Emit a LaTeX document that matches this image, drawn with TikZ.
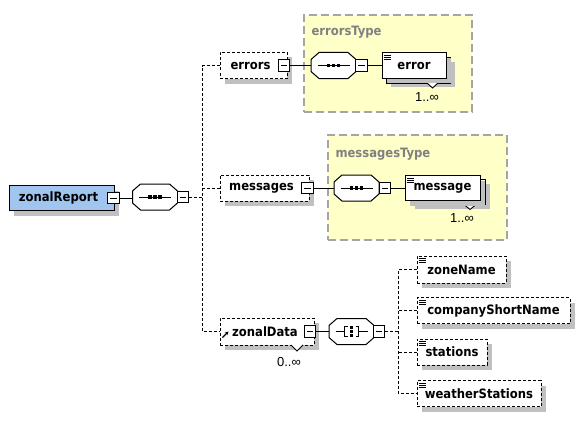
\documentclass[tikz,border=0pt]{standalone}
\usepackage{fontspec}
\setmainfont{DejaVu Sans}
\newfontfamily\lblfam{DejaVu Sans Condensed}
\newfontfamily\occfam{Liberation Sans}
\usetikzlibrary{shadows,arrows.meta}
\definecolor{repblue}{RGB}{160,198,240}
\definecolor{typeyel}{RGB}{255,255,200}
\definecolor{typeborder}{RGB}{165,165,165}
\definecolor{shadowc}{RGB}{192,192,192}
\definecolor{titlegray}{RGB}{128,128,128}
\newcommand{\xsOcto}[3]{%
  \node[minimum width=44pt,minimum height=25pt,inner sep=0pt] (#1) at (#2,#3) {};
  \fill[shadowc,shift={(4,4)}] ([shift={(8,0)}]#1.north west) -- ([shift={(-8,0)}]#1.north east) -- ([shift={(0,7)}]#1.north east) -- ([shift={(0,-7)}]#1.south east) -- ([shift={(-8,0)}]#1.south east) -- ([shift={(8,0)}]#1.south west) -- ([shift={(0,-7)}]#1.south west) -- ([shift={(0,7)}]#1.north west) -- cycle;
  \draw[fill=white] ([shift={(8,0)}]#1.north west) -- ([shift={(-8,0)}]#1.north east) -- ([shift={(0,7)}]#1.north east) -- ([shift={(0,-7)}]#1.south east) -- ([shift={(-8,0)}]#1.south east) -- ([shift={(8,0)}]#1.south west) -- ([shift={(0,-7)}]#1.south west) -- ([shift={(0,7)}]#1.north west) -- cycle;
}
\newcommand{\xsSeqIcon}[1]{%
  \draw ([shift={(-16,0)}]#1.center) -- ([shift={(16,0)}]#1.center);
  \foreach \d in {-5,0,5} \fill ([shift={(\d-1.6,-1.6)}]#1.center) rectangle ([shift={(\d+1.6,1.6)}]#1.center);
}
\newcommand{\xsSimpleIcon}[1]{%
  \foreach \d in {3,5,7} \draw[line width=0.8pt] ([shift={(2,\d)}]#1.north west) -- ([shift={(9,\d)}]#1.north west);
}
\begin{document}
\begin{tikzpicture}[x=1pt,y=-1pt,line width=1pt,
  lbl/.style={font=\lblfam\bfseries\fontsize{12.9}{15}\selectfont},
  elem/.style={lbl,draw,fill=white,inner sep=0pt,minimum height=26pt,
     drop shadow={shadow xshift=5pt,shadow yshift=-5pt,fill=shadowc,opacity=1}},
  optelem/.style={elem,dash pattern=on 3pt off 2pt},
  backbox/.style={draw,fill=white,inner sep=0pt,minimum height=25pt,
     drop shadow={shadow xshift=5pt,shadow yshift=-4pt,fill=shadowc,opacity=1}},
  minus/.style={draw,fill=white,minimum size=11.5pt,inner sep=0pt,
     path picture={\draw ([xshift=2.5pt]path picture bounding box.west) -- ([xshift=-2.5pt]path picture bounding box.east);}},
  typebox/.style={draw=typeborder,fill=typeyel,line width=1.4pt,dash pattern=on 8pt off 4pt,inner sep=0pt},
  typetitle/.style={font=\lblfam\bfseries\fontsize{12.9}{15}\selectfont,text=titlegray,inner sep=0pt,anchor=west},
  conn/.style={draw},
  dconn/.style={draw,dash pattern=on 3pt off 2pt},
  occ/.style={font=\occfam\fontsize{13}{15}\selectfont,inner sep=0pt},
  notch/.style={draw,fill=white,line width=0.9pt}
]
\useasboundingbox (0,0) rectangle (583,420);
\fill[white] (0,0) rectangle (583,420);

% type boxes
\node[typebox,minimum width=168pt,minimum height=97pt] (errT) at (388,63.5) {};
\node[typetitle] (errTt) at (311,32) {errorsType};
\node[typebox,minimum width=179pt,minimum height=105pt] (msgT) at (417.5,187.5) {};
\node[typetitle] (msgTt) at (335,154) {messagesType};

% root
\node[elem,fill=repblue,minimum width=105pt,minimum height=25pt] (zr) at (61.5,198) {zonalReport\hspace*{6pt}};
\node[minus] (m1) at (113.5,198) {};
\xsOcto{s1}{155}{197}
\xsSeqIcon{s1}
\node[minus] (m2) at (183,197) {};
\draw[conn] (m1.east) -- (s1.west |- m1.east);

% trunk
\coordinate (tr) at (202,197);

% errors
\node[optelem,minimum width=67pt] (errors) at (253.5,65.5) {errors\hspace*{6pt}};
\node[minus] (m3) at (284,65.5) {};
\xsOcto{s2}{333.5}{65.5}
\xsSeqIcon{s2}
\node[minus] (m4) at (361.5,65.5) {};
\node[backbox,minimum width=64pt] (errorb) at (418,70.5) {};
\draw[notch] (427,83) -- (432.5,88) -- (438,83);
\node[elem,minimum width=64pt,minimum height=25pt] (error) at (414,65.5) {error};
\xsSimpleIcon{error}
\node[occ] (occ1) at (427,97) {1..∞};
\draw[conn] (m3.east) -- (s2.west);
\draw[conn] (m4.east) -- (error.west);

% messages
\node[optelem,minimum width=89pt] (messages) at (264.5,188) {messages\hspace*{6pt}};
\node[minus] (m5) at (307.5,188) {};
\xsOcto{s3}{356.5}{188}
\xsSeqIcon{s3}
\node[minus] (m6) at (385,188) {};
\node[backbox,minimum width=75pt] (messageb) at (447.5,192) {};
\draw[notch] (464,204.5) -- (470,209.5) -- (476,204.5);
\node[elem,minimum width=75pt,minimum height=25pt] (message) at (442.5,188) {message};
\xsSimpleIcon{message}
\node[occ] (occ2) at (462,218) {1..∞};
\draw[conn] (m5.east) -- (s3.west);
\draw[conn] (m6.east) -- (message.west);

% zonalData
\node[optelem,minimum width=94pt,minimum height=27pt] (zonalData) at (267,331.5) {\hspace*{4pt}zonalData\hspace*{8pt}};
\draw[notch] (291,345) -- (297,351) -- (303,345);
\draw[-{Stealth[length=3.5pt,width=3.5pt]},line width=1.2pt] (222.5,337.5) -- (228.5,331.5);
\node[minus] (m7) at (310,331.5) {};
\node[occ] (occ3) at (289,362) {0..∞};
\xsOcto{c1}{351.5}{331.5}
\node[minus] (m8) at (379,331.5) {};
\draw[conn] (m7.east) -- (c1.west);
% choice icon
\draw ([shift={(-16,0)}]c1.center) -- ([shift={(-7,0)}]c1.center);
\draw ([shift={(-4,-5)}]c1.center) -- ([shift={(-7,-5)}]c1.center) -- ([shift={(-7,5)}]c1.center) -- ([shift={(-4,5)}]c1.center);
\draw ([shift={(4,-5)}]c1.center) -- ([shift={(7,-5)}]c1.center) -- ([shift={(7,5)}]c1.center) -- ([shift={(4,5)}]c1.center);
\draw ([shift={(7,0)}]c1.center) -- ([shift={(16,0)}]c1.center);
\foreach \d in {-4,0,4} \fill ([shift={(-1.5,\d-1.3)}]c1.center) rectangle ([shift={(1.5,\d+1.3)}]c1.center);

% children
\node[optelem,minimum width=89pt,minimum height=27pt] (zoneName) at (461.5,269.5) {zoneName};
\xsSimpleIcon{zoneName}
\node[optelem,minimum width=153pt] (company) at (493.5,310.5) {companyShortName};
\xsSimpleIcon{company}
\node[optelem,minimum width=70pt] (stations) at (452,352) {stations};
\xsSimpleIcon{stations}
\node[optelem,minimum width=124pt] (weather) at (479,393.5) {weatherStations};
\xsSimpleIcon{weather}
\coordinate (ct) at (398,331.5);

% main connectors
\draw[dconn] (m2.east) -- (tr);
\draw[dconn] (errors.west) -- (errors.west -| tr) -- (zonalData.west -| tr) -- (zonalData.west);
\draw[dconn] (messages.west) -- (messages.west -| tr);
\draw[dconn] (m8.east) -- (ct);
\draw[dconn] (zoneName.west) -- (zoneName.west -| ct) -- (weather.west -| ct) -- (weather.west);
\draw[dconn] (company.west) -- (company.west -| ct);
\draw[dconn] (stations.west) -- (stations.west -| ct);
\end{tikzpicture}
\end{document}
